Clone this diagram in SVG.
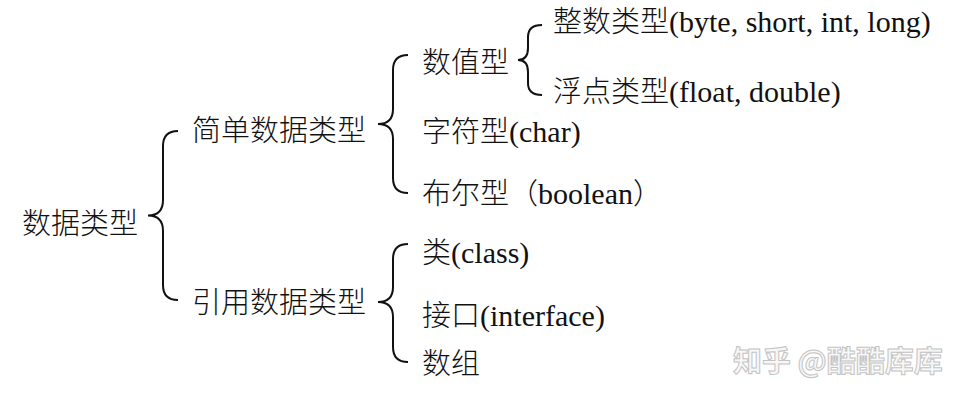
<svg xmlns="http://www.w3.org/2000/svg" width="970" height="402" viewBox="0 0 970 402">
<style>
text{font-family:"Liberation Serif","Noto Sans CJK SC",serif;font-size:29px;font-weight:300;fill:#111}
.l{font-size:30px;font-weight:normal}
.brace{fill:none;stroke:#111;stroke-width:2}
.wm{font-family:"Noto Sans CJK SC",sans-serif;font-size:29px;font-weight:bold;fill:#f7f7f7;stroke:#c4c4c4;stroke-width:1}
</style>
<rect width="970" height="402" fill="#fff"/>
<g id="connectors">
<path class="brace" d="M178,131 Q163,131 163,146 L163,200 Q163,215.5 148,215.5 Q163,215.5 163,231 L163,285 Q163,300 178,300"/>
<path class="brace" d="M408,55 Q393,55 393,70 L393,109 Q393,124 378,124 Q393,124 393,139 L393,178 Q393,193 408,193"/>
<path class="brace" d="M542,25 Q528,25 528,37 L528,48 Q528,60 518,60 Q528,60 528,72 L528,83 Q528,95 542,95"/>
<path class="brace" d="M408,244 Q393,244 393,259 L393,287 Q393,302 378,302 Q393,302 393,317 L393,347 Q393,362 408,362"/>
</g>
<g id="root"><text x="22" y="234">数据类型</text></g>
<g id="simple"><text x="192" y="141">简单数据类型</text></g>
<g id="reference"><text x="192" y="313">引用数据类型</text></g>
<g id="numeric"><text x="422" y="73">数值型</text></g>
<g id="integer"><text x="553" y="32">整数类型<tspan class="l">(byte, short, int, long)</tspan></text></g>
<g id="float"><text x="553" y="102">浮点类型<tspan class="l">(float, double)</tspan></text></g>
<g id="char"><text x="422" y="142">字符型<tspan class="l">(char)</tspan></text></g>
<g id="boolean"><text x="422" y="204">布尔型（<tspan class="l">boolean</tspan>）</text></g>
<g id="class"><text x="422" y="263">类<tspan class="l">(class)</tspan></text></g>
<g id="interface"><text x="422" y="326">接口<tspan class="l">(interface)</tspan></text></g>
<g id="array"><text x="422" y="374">数组</text></g>
<g id="watermark"><text class="wm" x="733" y="372">知乎 @酷酷库库</text></g>
</svg>
